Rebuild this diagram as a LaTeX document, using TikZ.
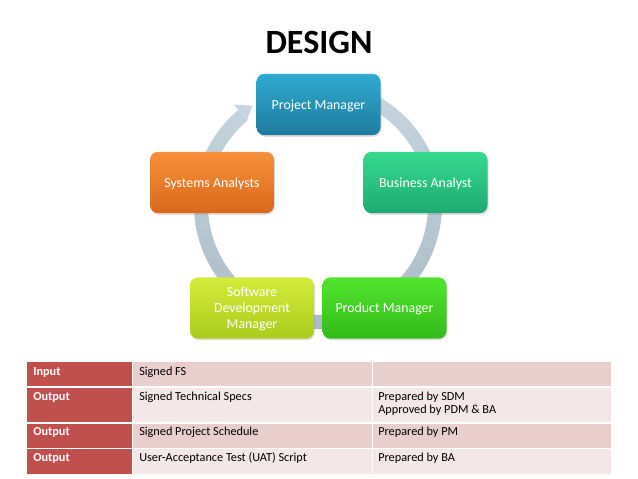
\documentclass[tikz,border=0pt]{standalone}
\usepackage{fontspec}
\setmainfont{Carlito}
\usetikzlibrary{shadows}
\definecolor{pmtop}{HTML}{2FAAD0}
\definecolor{pmbot}{HTML}{1E7C9E}
\definecolor{batop}{HTML}{36DA8F}
\definecolor{babot}{HTML}{1DAA72}
\definecolor{pdtop}{HTML}{52E430}
\definecolor{pdbot}{HTML}{33BA18}
\definecolor{sdtop}{HTML}{D4EC3C}
\definecolor{sdbot}{HTML}{ABCB1C}
\definecolor{satop}{HTML}{F7913A}
\definecolor{sabot}{HTML}{DA681B}
\definecolor{ringtop}{HTML}{C6D5DF}
\definecolor{ringbot}{HTML}{A9BAC6}
\definecolor{tabred}{HTML}{C0504D}
\definecolor{rowdark}{HTML}{E8CFCE}
\definecolor{rowlight}{HTML}{F3E7E7}
\tikzset{
  cbox/.style={rounded corners=6pt, minimum width=93pt, minimum height=46pt,
    text=white, font=\fontsize{10.4}{12}\selectfont, align=center, inner sep=2pt,
    text depth=0pt,
    drop shadow={opacity=0.25, shadow xshift=0.8pt, shadow yshift=-1.2pt}},
  ctext/.style={anchor=base west, inner sep=0pt, font=\fontsize{9.2}{11}\selectfont},
  htext/.style={ctext, text=white, font=\fontsize{9.2}{11}\selectfont\bfseries},
}
\begin{document}
\begin{tikzpicture}[x=0.75pt,y=-0.75pt]
\useasboundingbox (0,0) rectangle (638,478);
% title
\node[anchor=base, inner sep=0pt, font=\fontsize{25.5}{30}\selectfont\bfseries] (title) at (319,54) {DESIGN};
% ring
\coordinate (c) at (318,205);
\path[top color=ringtop, bottom color=ringbot]
  ([shift={(-130:124)}]c) arc[start angle=-130, end angle=-430, radius=124]
  -- ([shift={(-430:110)}]c) arc[start angle=-430, end angle=-130, radius=110] -- cycle;
\fill[ringtop] ([shift={(-130:131)}]c) -- ([shift={(-123.4:119)}]c) -- ([shift={(-130:110.5)}]c) -- cycle;
% boxes
\node[cbox, top color=pmtop, bottom color=pmbot] (pm) at (318.5,104.5) {Project Manager};
\node[cbox, top color=batop, bottom color=babot] (ba) at (425.5,182.5) {Business Analyst};
\node[cbox, top color=pdtop, bottom color=pdbot] (pd) at (384.5,308) {Product Manager};
\node[cbox, top color=sdtop, bottom color=sdbot] (sd) at (252,308) {Software\\Development\\Manager};
\node[cbox, top color=satop, bottom color=sabot] (sa) at (212,182.5) {Systems Analysts};
% table
\fill[rowdark] (26.7,361.7) rectangle (611,386.7);
\fill[rowlight] (26.7,386.7) rectangle (611,422.7);
\fill[rowdark] (26.7,422.7) rectangle (611,448.3);
\fill[rowlight] (26.7,448.3) rectangle (611,474);
\fill[tabred] (26.7,361.7) rectangle (132.3,474);
\draw[white, line width=1.2pt] (26.7,386.7) -- (611,386.7);
\draw[white, line width=1.2pt] (26.7,422.7) -- (611,422.7);
\draw[white, line width=1.2pt] (26.7,448.3) -- (611,448.3);
\draw[white, line width=0.6pt] (132.3,361.7) -- (132.3,474);
\draw[white, line width=0.6pt] (372,361.7) -- (372,474);
\node[htext] (h1) at (33,375) {Input};
\node[htext] (h2) at (33,400) {Output};
\node[htext] (h3) at (33,435.7) {Output};
\node[htext] (h4) at (33,461.3) {Output};
\node[ctext] (a1) at (139,375) {Signed FS};
\node[ctext] (a2) at (139,400) {Signed Technical Specs};
\node[ctext] (a3) at (139,435.7) {Signed Project Schedule};
\node[ctext] (a4) at (139,461.3) {User-Acceptance Test (UAT) Script};
\node[ctext] (b2) at (378,400) {Prepared by SDM};
\node[ctext] (b2b) at (378,413.5) {Approved by PDM \& BA};
\node[ctext] (b3) at (378,435.7) {Prepared by PM};
\node[ctext] (b4) at (378,461.3) {Prepared by BA};
\end{tikzpicture}
\end{document}
